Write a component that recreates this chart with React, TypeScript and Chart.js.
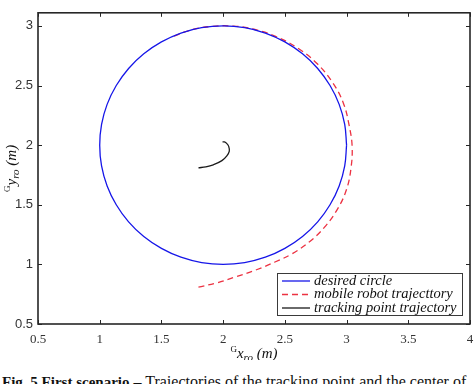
import React, { useEffect, useRef } from "react";
import { Chart, registerables } from "chart.js";

Chart.register(...registerables);

// ---- data ----
const circleX = [3.0, 2.985, 2.94, 2.866, 2.766, 2.643, 2.5, 2.342, 2.174, 2.0, 1.826, 1.658, 1.5, 1.357, 1.234, 1.134, 1.06, 1.015, 1.0, 1.015, 1.06, 1.134, 1.234, 1.357, 1.5, 1.658, 1.826, 2.0, 2.174, 2.342, 2.5, 2.643, 2.766, 2.866, 2.94, 2.985, 3.0];
const circleY = [2.0, 2.174, 2.342, 2.5, 2.643, 2.766, 2.866, 2.94, 2.985, 3.0, 2.985, 2.94, 2.866, 2.766, 2.643, 2.5, 2.342, 2.174, 2.0, 1.826, 1.658, 1.5, 1.357, 1.234, 1.134, 1.06, 1.015, 1.0, 1.015, 1.06, 1.134, 1.234, 1.357, 1.5, 1.658, 1.826, 2.0];

const robotX = [1.8, 1.95, 2.1, 2.27, 2.42, 2.56, 2.7, 2.82, 2.93, 3.0, 3.035, 3.045, 3.02, 2.975, 2.89, 2.765, 2.61, 2.42, 2.25, 2.08, 1.9, 1.74, 1.58];
const robotY = [0.81, 0.845, 0.895, 0.955, 1.02, 1.09, 1.19, 1.31, 1.47, 1.63, 1.8, 1.99, 2.17, 2.35, 2.52, 2.68, 2.81, 2.915, 2.972, 2.999, 2.995, 2.966, 2.906];

const trackX = [1.8, 1.86, 1.92, 1.99, 2.03, 2.05, 2.045, 2.03, 2.01, 1.995];
const trackY = [1.81, 1.818, 1.835, 1.87, 1.91, 1.95, 1.99, 2.013, 2.027, 2.027];

const seriesLabels = ["desired circle", "mobile robot trajecttory", "tracking point trajectory"];
const xTicks = [0.5, 1, 1.5, 2, 2.5, 3, 3.5, 4];
const yTicks = [0.5, 1, 1.5, 2, 2.5, 3];
const xRange = [0.5, 4];
const yRange = [0.5, 3.11];
const captionBold = "Fig. 5 First scenario";
const captionRest = " – Trajectories of the tracking point and the center of";

const zip = (xs: number[], ys: number[]) => xs.map((x, i) => ({ x, y: ys[i] }));

const BLUE = "#1616e8";
const RED = "rgb(236,50,66)";
const BLACK = "#1a1a1a";
const FRAME = "#262626";

type Piece = { t: string; font: string; dy: number };
const labelPieces = (v: string): Piece[] => [
  { t: "G", font: "9px 'Liberation Serif'", dy: -6 },
  { t: v, font: "italic 15px 'Liberation Serif'", dy: 0 },
  { t: "ro", font: "italic 11px 'Liberation Serif'", dy: 3 },
  { t: " (m)", font: "italic 15px 'Liberation Serif'", dy: 0 },
];

function drawPieces(ctx: CanvasRenderingContext2D, pieces: Piece[]) {
  let total = 0;
  const widths = pieces.map((p) => {
    ctx.font = p.font;
    const w = ctx.measureText(p.t).width;
    total += w;
    return w;
  });
  let x = -total / 2;
  ctx.textBaseline = "alphabetic";
  ctx.textAlign = "left";
  pieces.forEach((p, i) => {
    ctx.font = p.font;
    ctx.fillText(p.t, x, p.dy);
    x += widths[i];
  });
}

const overlayPlugin = {
  id: "overlay",
  afterDraw(chart: any) {
    const { ctx, chartArea: a, scales } = chart;
    const xs = scales.x;
    const ys = scales.y;
    ctx.save();
    ctx.strokeStyle = FRAME;
    ctx.lineWidth = 1;
    ctx.setLineDash([]);
    const seg = (x1: number, y1: number, x2: number, y2: number) => {
      ctx.beginPath();
      ctx.moveTo(x1, y1);
      ctx.lineTo(x2, y2);
      ctx.stroke();
    };
    xTicks.forEach((v) => {
      const px = Math.round(xs.getPixelForValue(v)) + 0.5;
      seg(px, a.bottom, px, a.bottom - 4);
      seg(px, a.top, px, a.top + 4);
    });
    yTicks.forEach((v) => {
      const py = Math.round(ys.getPixelForValue(v)) + 0.5;
      seg(a.left, py, a.left + 4, py);
      seg(a.right, py, a.right - 4, py);
    });
    ctx.lineWidth = 1.6;
    ctx.strokeRect(a.left, a.top, a.right - a.left, a.bottom - a.top);

    // legend
    const bw = 185;
    const bh = 42;
    const bx = a.right - 8 - bw;
    const by = a.bottom - 9 - bh;
    ctx.fillStyle = "#ffffff";
    ctx.fillRect(bx, by, bw, bh);
    ctx.lineWidth = 1;
    ctx.strokeStyle = "#3a3a3a";
    ctx.strokeRect(bx + 0.5, by + 0.5, bw, bh);
    const rows = [8, 21.5, 35];
    const ds = chart.data.datasets;
    ds.forEach((d: any, i: number) => {
      const yy = by + rows[i];
      ctx.strokeStyle = d.borderColor;
      ctx.lineWidth = d.borderWidth;
      ctx.setLineDash(d.borderDash || []);
      seg(bx + 5, yy, bx + 33, yy);
      ctx.setLineDash([]);
      ctx.fillStyle = "#111";
      ctx.font = "italic 14.5px 'Liberation Serif'";
      ctx.textBaseline = "middle";
      ctx.textAlign = "left";
      ctx.fillText(d.label, bx + 37, yy);
    });

    // axis titles
    ctx.fillStyle = "#111";
    ctx.save();
    ctx.translate((a.left + a.right) / 2, 358);
    drawPieces(ctx, labelPieces("x"));
    ctx.restore();
    ctx.save();
    ctx.translate(16, (a.top + a.bottom) / 2);
    ctx.rotate(-Math.PI / 2);
    drawPieces(ctx, labelPieces("y"));
    ctx.restore();

    ctx.restore();
  },
};

export default function App() {
  const ref = useRef<HTMLCanvasElement | null>(null);

  useEffect(() => {
    if (!ref.current) return;
    const chart = new Chart(ref.current, {
      type: "scatter",
      data: {
        datasets: [
          {
            label: seriesLabels[0],
            data: zip(circleX, circleY),
            showLine: true,
            borderColor: BLUE,
            borderWidth: 1.3,
            pointRadius: 0,
            tension: 0.4,
            fill: false,
          },
          {
            label: seriesLabels[1],
            data: zip(robotX, robotY),
            showLine: true,
            borderColor: RED,
            borderWidth: 1.3,
            borderDash: [6, 4],
            pointRadius: 0,
            tension: 0.4,
            fill: false,
          },
          {
            label: seriesLabels[2],
            data: zip(trackX, trackY),
            showLine: true,
            borderColor: BLACK,
            borderWidth: 1.3,
            pointRadius: 0,
            tension: 0.4,
            fill: false,
          },
        ],
      } as any,
      options: {
        animation: false,
        responsive: false,
        devicePixelRatio: 1,
        layout: { padding: { top: 2, right: 4, left: 0, bottom: 0 } },
        plugins: { legend: { display: false }, tooltip: { enabled: false } },
        scales: {
          x: {
            type: "linear",
            min: xRange[0],
            max: xRange[1],
            grid: { display: false, drawTicks: false },
            border: { display: false },
            afterBuildTicks: (s: any) => {
              s.ticks = xTicks.map((v) => ({ value: v }));
            },
            afterFit: (s: any) => {
              s.height = 36;
              s.paddingLeft = 0;
              s.paddingRight = 0;
            },
            ticks: {
              padding: 8,
              maxRotation: 0,
              autoSkip: false,
              color: "#333",
              font: { family: "'Liberation Serif'", size: 13 },
              callback: (v: any) => String(v),
            },
          },
          y: {
            type: "linear",
            min: yRange[0],
            max: yRange[1],
            grid: { display: false, drawTicks: false },
            border: { display: false },
            afterBuildTicks: (s: any) => {
              s.ticks = yTicks.map((v) => ({ value: v }));
            },
            afterFit: (s: any) => {
              s.width = 38;
            },
            ticks: {
              padding: 5,
              autoSkip: false,
              color: "#333",
              font: { family: "'Liberation Sans'", size: 13 },
              callback: (v: any) => String(v),
            },
          },
        },
      } as any,
      plugins: [overlayPlugin],
    });
    return () => chart.destroy();
  }, []);

  return (
    <div
      style={{
        position: "fixed",
        left: 0,
        top: 0,
        width: 474,
        height: 384,
        overflow: "hidden",
        background: "#fff",
      }}
    >
      <canvas ref={ref} width={474} height={360} style={{ display: "block" }} />
      <div
        style={{
          position: "absolute",
          left: 2,
          top: 374,
          fontFamily: "'Liberation Serif'",
          fontSize: 16,
          lineHeight: "16px",
          whiteSpace: "nowrap",
          color: "#111",
        }}
      >
        <b style={{ fontSize: 15 }}>{captionBold}</b>
        <span>{captionRest}</span>
      </div>
    </div>
  );
}
